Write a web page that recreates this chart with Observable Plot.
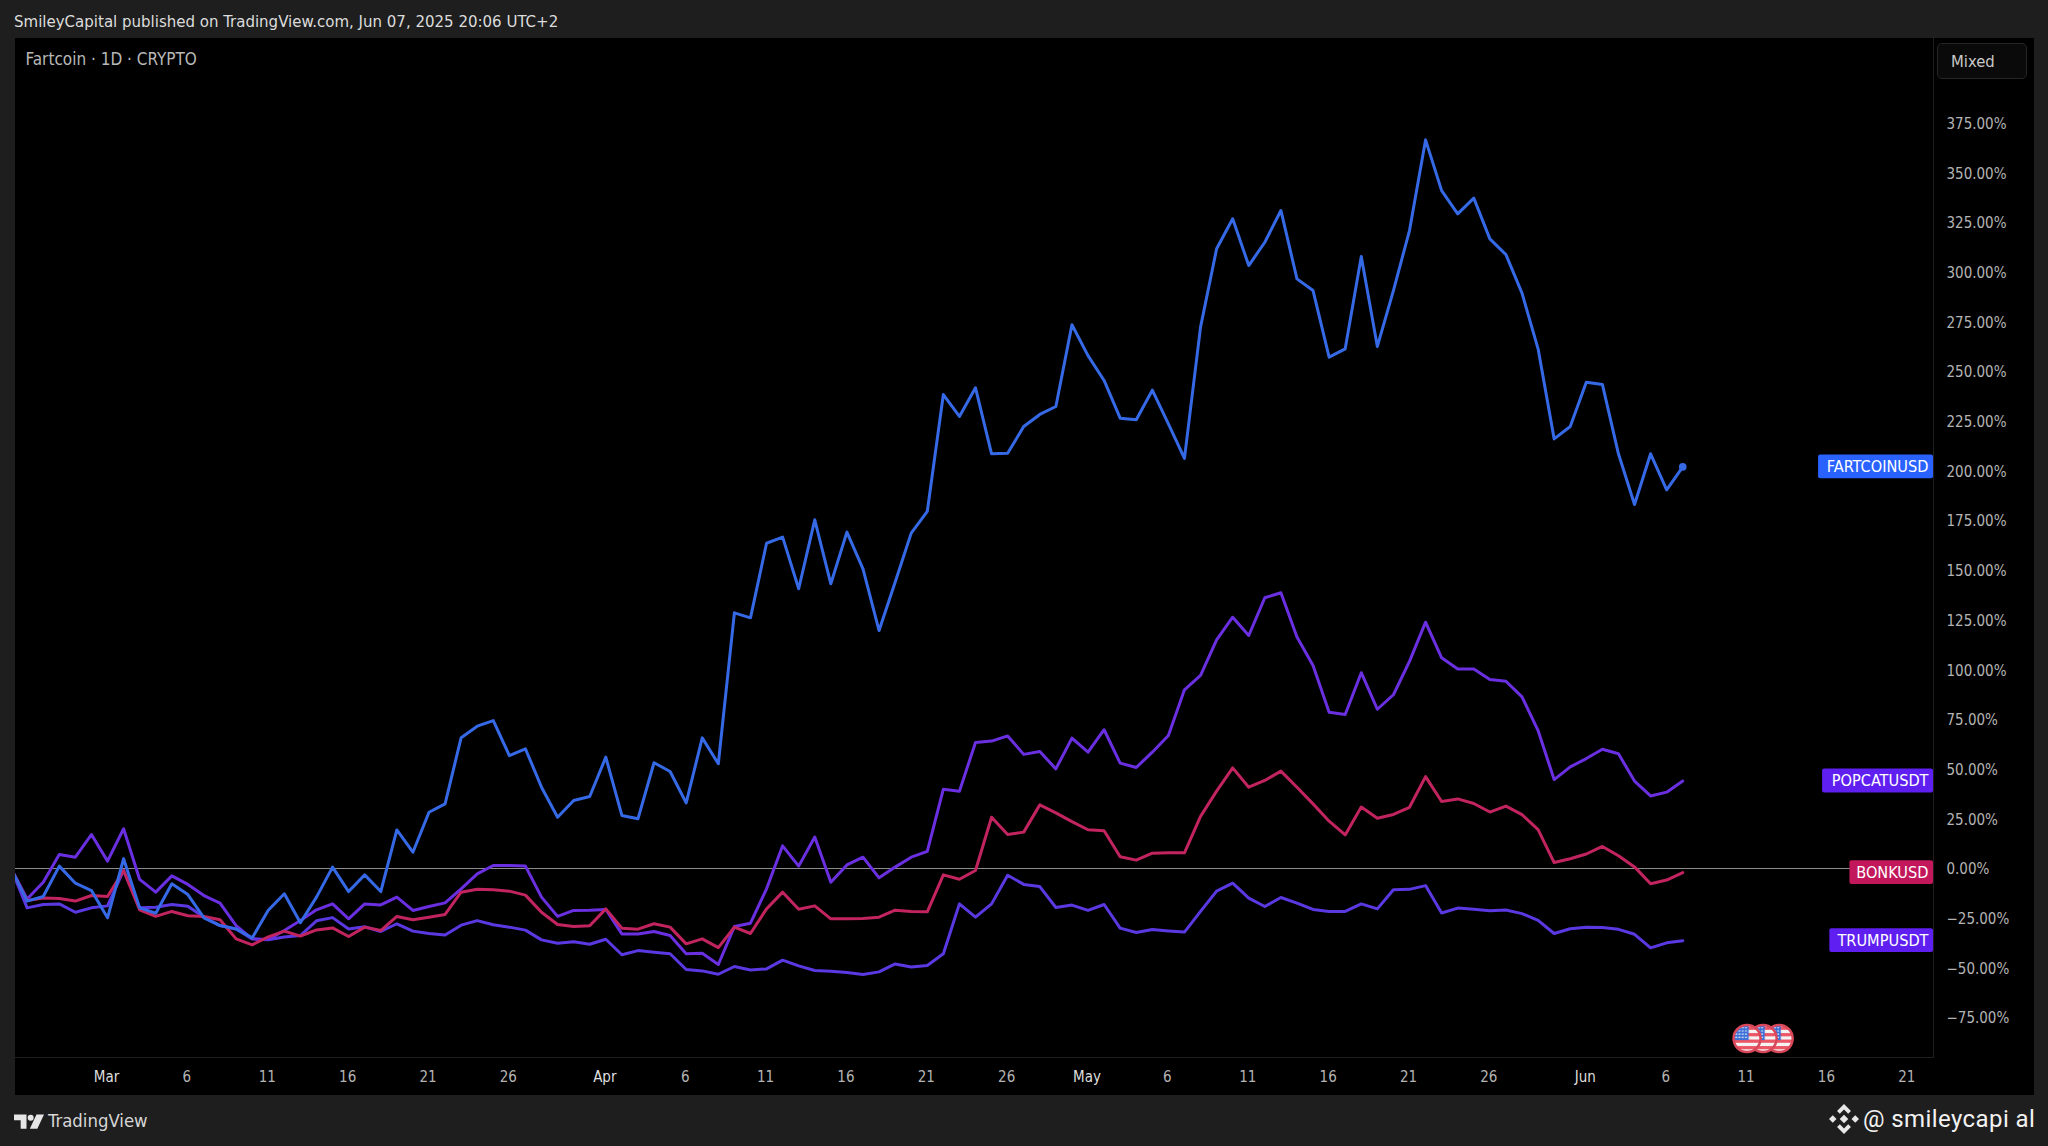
<!DOCTYPE html>
<html>
<head>
<meta charset="utf-8">
<script src="https://cdn.jsdelivr.net/npm/d3@7"></script>
<script src="https://cdn.jsdelivr.net/npm/@observablehq/plot@0.6"></script>
<style>
  html, body { margin: 0; padding: 0; background: #1e1e1e; width: 2048px; height: 1146px; overflow: hidden; }
  body { font-family: "DejaVu Sans Condensed", "DejaVu Sans", sans-serif; position: relative; }
  #head { height: 38px; line-height: 43px; padding-left: 14px; font-size: 16.7px; color: #dcdcdc; box-sizing: border-box; white-space: nowrap; }
  #chart { margin-left: 15px; width: 2019px; height: 1057px; position: relative; }
  #chart svg { display: block; }
  #mixed { position: absolute; left: 1922px; top: 5px; width: 90px; height: 36px; border: 1px solid #262626; border-radius: 5px;
           box-sizing: border-box; color: #c8c8c8; font-size: 16.5px; line-height: 36px; padding-left: 13px; background: #0a0a0a; }
  #foot { height: 51px; position: relative; color: #dadada; }
  #brand { position: absolute; left: 48px; top: 13px; font-size: 18.4px; line-height: 26px; color: #d6d6d6; }
  #logo { position: absolute; left: 14px; top: 18px; }
  #mark { position: absolute; left: 1863px; top: 8px; font-family: Roboto, sans-serif; font-size: 24px; line-height: 32px; color: #f2f2f2; letter-spacing: 0.4px; white-space: nowrap; }
  #diamond { position: absolute; left: 1829px; top: 9px; }
</style>
</head>
<body>
<div id="head">SmileyCapital published on TradingView.com, Jun 07, 2025 20:06 UTC+2</div>
<div id="chart"><div id="mixed">Mixed</div></div>
<div id="foot">
  <svg id="logo" width="30" height="18" viewBox="0 0 36 20">
    <path d="M0 1h15v17H8V8H0z" fill="#e6e6e6"/><circle cx="20" cy="5" r="3.6" fill="#e6e6e6"/><path d="M27 1h9l-8 17h-9z" fill="#e6e6e6"/>
  </svg>
  <div id="brand">TradingView</div>
  <svg id="diamond" width="30" height="30" viewBox="0 0 28 28">
    <g fill="#e8e8e8">
      <path d="M14 0l6.5 6.5-2.6 2.6L14 5.2l-3.9 3.9-2.6-2.6z"/><path d="M14 28l6.5-6.5-2.6-2.6-3.9 3.9-3.9-3.9-2.6 2.6z"/>
      <path d="M0 14l3.5-3.5L7 14l-3.5 3.5z"/><path d="M21 14l3.5-3.5L28 14l-3.5 3.5z"/><path d="M14 10l4 4-4 4-4-4z"/>
    </g>
  </svg>
  <div id="mark">@ smileycapi al</div>
</div>
<script>
const firstDay = new Date(Date.UTC(2025, 1, 23));
const lastDay = new Date(Date.UTC(2025, 5, 7));
const days = d3.utcDay.range(firstDay, d3.utcDay.offset(lastDay, 1));

const fartcoin = [0,-16.4,-14.1,1.2,-7.4,-11.1,
  -24.8,4.9,-19.8,-22.5,-7.7,-13.1,-24.8,-28.7,-30.4,-34.9,
  -21,-12.7,-27.3,-14.4,0.7,-11.6,-3.2,-11.6,19.4,8.2,
  28.3,32.5,65.8,71.6,74.4,56.8,60.2,40.9,25.8,34.2,36.2,
  56,26.7,25,53.2,48.8,33,65.7,52.7,128.6,126.1,
  163.6,166.7,140.7,175.4,143.2,169.2,150.7,119.7,144,168.7,
  179.6,238.4,227.4,241.8,208.6,208.9,222.3,228.4,232.4,273.5,
  258,245.5,226.5,225.7,240.6,223.7,206.3,272.3,311.7,326.8,
  303.3,315,331,296.6,290.7,257.2,261.4,307.8,262.6,290.7,
  320.9,366.5,341,329.3,337.2,316.7,308.8,289.4,261.4,216.1,222.3,
  244.6,243.5,208.6,183.1,208.6,190.5,202];
const popcat = [0,-15.3,-6.9,7,5.7,17.1,
  3.7,20,-5.5,-11.9,-3.7,-8,-13.6,-17.4,-28.7,-35.4,
  -35.7,-31.2,-26.2,-20.8,-17.8,-25.3,-17.8,-18.3,-14.4,-21.1,
  -19.1,-17.3,-10.2,-2.7,1.5,1.5,1.2,-14.4,-24.1,-21.1,-21,
  -20.6,-32.9,-32.9,-31.7,-33.7,-42.9,-42.6,-48.3,-29.2,-27.5,
  -10.2,11.4,1.2,15.8,-6.9,1.8,5.7,-4.7,0.7,5.7,
  8.6,39.9,38.9,63.4,64.1,66.7,57.4,58.9,50.1,65.6,
  58.5,69.8,53,50.8,58.5,66.9,89.9,97.1,115,126.4,
  117.2,136.2,138.7,116.4,102.1,78.6,77.5,98.5,80.1,87.4,
  104.2,123.9,106,100.4,100.4,95.1,94.2,86.3,69.4,44.7,51.1,
  55.3,60,57.7,44,36.5,38.4,44];
const bonk = [0,-16.1,-14.8,-15.1,-16.4,-13.6,
  -14.1,-1,-20.8,-24.1,-21.6,-23.8,-24.1,-25.8,-35.4,-38.4,
  -34.4,-31.5,-34,-30.9,-29.9,-34.2,-29.5,-31.2,-24.1,-25.8,
  -24.5,-23.1,-11.9,-10.4,-10.7,-11.4,-13.4,-22,-28.2,-29.2,-28.8,
  -20.3,-30,-30.5,-27.8,-29.5,-37.9,-35.4,-39.8,-29.5,-32.7,
  -20.3,-11.9,-20.5,-18.8,-25.3,-25.3,-25.2,-24.5,-21,-21.6,
  -21.8,-3.2,-5.4,-1,25.8,17.1,18.3,32,28,23.6,
  19.5,19,5.9,4.2,7.7,7.9,7.9,26.2,38.9,50.6,
  40.9,44.3,49,40.9,32.5,23.8,16.9,30.9,25.3,27.2,
  30.8,46.2,33.7,35,32.7,28.4,31.4,27.1,19.6,3,4.9,
  7.3,11.1,6.4,0.8,-7.7,-5.8,-2.1];
const trump = [0,-19.8,-18.1,-17.8,-22,-19.8,
  -18.8,-1,-19.8,-19.5,-18.1,-19,-24.5,-28.7,-30.4,-35.4,
  -35.8,-34.5,-33.7,-26.3,-24.7,-30.4,-29.3,-31.7,-27.8,-31.5,
  -32.7,-33.5,-28.5,-26.2,-28.3,-29.5,-31,-35.9,-37.6,-36.9,-38.1,
  -35.6,-43.4,-41.3,-42.1,-42.9,-50.8,-51.5,-53.2,-49.3,-51.1,
  -50.5,-46.1,-49,-51.3,-51.7,-52.3,-53.3,-52,-48,-49.5,
  -48.8,-42.9,-17.8,-24.5,-17.8,-3.4,-8,-9.1,-19.6,-18.4,
  -21.1,-18.1,-30,-32.2,-30.7,-31.4,-32,-21.6,-11.4,-7.4,
  -14.9,-19.1,-14.6,-17.4,-20.6,-21.6,-21.6,-17.8,-20.3,-10.7,
  -10.5,-8.6,-22.4,-19.9,-20.5,-21.2,-20.9,-22.7,-26.1,-32.7,-30.3,
  -29.5,-29.7,-30.6,-33.1,-39.9,-37.4,-36.3];

const seriesNames = ["TRUMPUSDT", "POPCATUSDT", "BONKUSD", "FARTCOINUSD"];
const seriesValues = [trump, popcat, bonk, fartcoin];
const lineColors = ["#5a38e2", "#6a2fe0", "#c2245f", "#3569e6"];
const badgeColors = ["#5f1ff0", "#5f1ff0", "#c2185b", "#2962ff"];
const badgeWidthDays = [6.45, 6.9, 5.2, 7.15];

const yTicks = d3.range(-75, 376, 25);
const monthTicks = [[new Date(Date.UTC(2025,2,1)),"Mar"],[new Date(Date.UTC(2025,3,1)),"Apr"],[new Date(Date.UTC(2025,4,1)),"May"],[new Date(Date.UTC(2025,5,1)),"Jun"]];
const dayTicks = [[2,6],[2,11],[2,16],[2,21],[2,26],[3,6],[3,11],[3,16],[3,21],[3,26],[4,6],[4,11],[4,16],[4,21],[4,26],[5,6],[5,11],[5,16],[5,21]]
  .map(([m,d]) => new Date(Date.UTC(2025,m,d)));
const eventDays = [new Date(Date.UTC(2025,5,13)), new Date(Date.UTC(2025,5,12)), new Date(Date.UTC(2025,5,11))];
const eventLevel = -85.5;

const xMin = new Date(Date.UTC(2025,1,23,6,36));
const xMax = new Date(Date.UTC(2025,5,22,14,24));

const rows = seriesNames.flatMap((name, s) => days.map((date, i) => ({date, name, value: seriesValues[s][i]})));
const badges = seriesNames.map((name, s) => ({
  name, value: seriesValues[s][days.length - 1], color: badgeColors[s],
  left: new Date(+xMax - badgeWidthDays[s] * 864e5)
}));
const colorOf = Object.fromEntries(seriesNames.map((n, s) => [n, lineColors[s]]));

const flagDefs = () => {
  const ns = "http://www.w3.org/2000/svg";
  const g = document.createElementNS(ns, "defs");
  let inner = `<pattern id="flag" patternUnits="objectBoundingBox" patternContentUnits="objectBoundingBox" width="1" height="1">
    <rect width="1" height="1" fill="#f4f4f4"/>`;
  for (const y of [0.06, 0.3, 0.54, 0.78]) inner += `<rect x="0" y="${y}" width="1" height="0.12" fill="#ec5563"/>`;
  inner += `<rect x="0" y="0" width="0.56" height="0.56" fill="#3b6fd8"/>`;
  for (const x of [0.1, 0.22, 0.34, 0.46]) for (const y of [0.1, 0.22, 0.34, 0.46]) inner += `<circle cx="${x}" cy="${y}" r="0.03" fill="#fff"/>`;
  g.innerHTML = inner + `</pattern>`;
  return g;
};

const chart = Plot.plot({
  width: 2019, height: 1057,
  marginLeft: 0, marginRight: 101, marginTop: 0, marginBottom: 38,
  style: {background: "#000", color: "#b2b5be", fontFamily: '"DejaVu Sans Condensed","DejaVu Sans",sans-serif', fontSize: "15px"},
  x: {type: "utc", domain: [xMin, xMax]},
  y: {domain: [-95.07, 417.5]},
  marks: [
    flagDefs,
    Plot.frame({anchor: "bottom", stroke: "#1f1f1f"}),
    Plot.frame({anchor: "right", stroke: "#1f1f1f"}),
    Plot.ruleY([0], {stroke: "#8c8c8c", strokeWidth: 1.2}),
    Plot.axisY({anchor: "right", ticks: yTicks, tickSize: 0, tickPadding: 13, dy: 1, label: null, fill: "#b4b4b4",
      tickFormat: d => d3.format(".2f")(d).replace("-", "\u2212") + "%"}),
    Plot.axisX({anchor: "bottom", ticks: dayTicks, tickSize: 0, tickPadding: 14, dx: -1, label: null, fill: "#b4b4b4",
      tickFormat: d => d.getUTCDate()}),
    Plot.axisX({anchor: "bottom", ticks: monthTicks.map(d => d[0]), tickSize: 0, tickPadding: 14, dx: -1, label: null, fill: "#dedede",
      tickFormat: d => monthTicks.find(m => +m[0] === +d)[1]}),
    Plot.line(rows, {x: "date", y: "value", z: "name", stroke: d => colorOf[d.name], strokeWidth: 3, clip: true}),
    Plot.dot(rows.filter(d => d.name === "FARTCOINUSD" && +d.date === +lastDay), {x: "date", y: "value", r: 3.8, fill: "#3569e6"}),
    Plot.rect(badges, {x1: "left", x2: () => xMax, y1: d => d.value - 6, y2: d => d.value + 6, fill: "color", rx: 2}),
    Plot.text(badges, {x: () => xMax, y: "value", text: "name", dx: -5, textAnchor: "end", fill: "#fff", fontSize: 16.2}),
    Plot.dot(eventDays, {x: d => d, y: () => eventLevel, r: 13.5, fill: "url(#flag)", stroke: "#d9485a", strokeWidth: 2.5}),
    Plot.text(["Fartcoin \u00b7 1D \u00b7 CRYPTO"], {frameAnchor: "top-left", dx: 10, dy: 14, fill: "#b8b8b8", fontSize: 17, lineAnchor: "top"})
  ]
});
document.getElementById("chart").prepend(chart);
</script>
</body>
</html>
